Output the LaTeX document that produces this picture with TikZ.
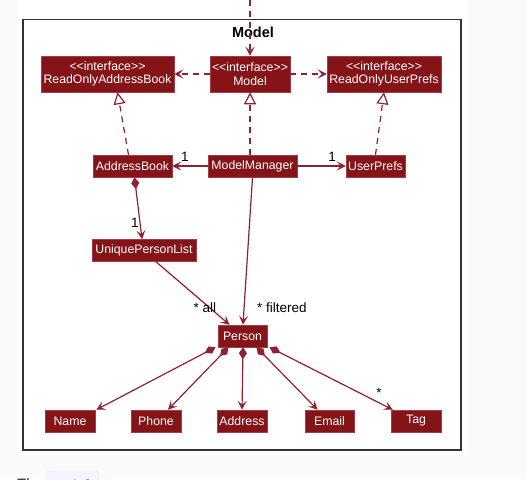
\documentclass[tikz,border=0pt]{standalone}
\usepackage{fontspec}
\setmainfont{Liberation Sans}
\newfontfamily\codefont{Liberation Mono}
\usetikzlibrary{arrows.meta,calc}
\definecolor{boxred}{HTML}{841418}
\definecolor{boxedge}{HTML}{A83A44}
\definecolor{linered}{HTML}{8E2231}
\definecolor{pagebg}{HTML}{FAFAFA}
\newcommand{\stereo}{{<}{<}interface{>}{>}}
\tikzset{
  cls/.style={rectangle, fill=boxred, draw=boxedge, line width=0.5pt, text=white,
    inner sep=0pt, minimum height=22pt, font=\fontsize{12.3}{13.5}\selectfont, align=center},
  iface/.style={cls, minimum height=36pt},
  link/.style={draw=linered, line width=1.2pt},
  opentip/.style={-{Stealth[length=9pt,width=9pt,inset=4pt]}},
  realize/.style={link, dash pattern=on 6pt off 5pt, -{Triangle[open,length=12pt,width=12pt,fill=white]}},
  depend/.style={link, dash pattern=on 6pt off 5pt, opentip},
  compose/.style={link, {Diamond[length=12pt,width=8pt]}-{Stealth[length=9pt,width=9pt,inset=4pt]}},
  mult/.style={font=\fontsize{13.5}{14}\selectfont, text=black, inner sep=0pt},
}
\begin{document}
\begin{tikzpicture}[x=1pt,y=-1pt]
\useasboundingbox (0,0) rectangle (527,479);
\clip (0,0) rectangle (527,479);
\fill[pagebg] (0,0) rectangle (527,479);
\fill[white] (17,0) rectangle (467,455);
% frame
\draw[black!80, line width=1.6pt] (23,19.5) rectangle (461,450);
\node[font=\bfseries\fontsize{14.5}{15}\selectfont, inner sep=0pt] (title) at (253,32) {Model};

% interfaces
\node[iface, minimum width=133pt] (ROAB) at (107.5,74) {\stereo\\ReadOnlyAddressBook};
\node[iface, minimum width=80pt] (MI) at (250,74) {\stereo\\Model};
\node[iface, minimum width=114pt] (ROUP) at (384,74) {\stereo\\ReadOnlyUserPrefs};

% classes
\node[cls, minimum width=79pt] (AB) at (132.5,166) {AddressBook};
\node[cls, minimum width=89pt] (MM) at (252.5,166) {ModelManager};
\node[cls, minimum width=59pt] (UP) at (375.5,166) {UserPrefs};
\node[cls, minimum width=104pt] (UPL) at (144,250.5) {UniquePersonList};
\node[cls, minimum width=49pt] (P) at (242.5,336) {Person};
\node[cls, minimum width=50pt] (Name) at (70,421) {Name};
\node[cls, minimum width=50pt] (Phone) at (156,421) {Phone};
\node[cls, minimum width=50pt] (Addr) at (242,421) {Address};
\node[cls, minimum width=49pt] (Email) at (329.5,421) {Email};
\node[cls, minimum width=50pt] (Tag) at (416,421) {Tag};

% incoming dependency from outside
\coordinate (ext) at (250,0);
\draw[depend] (ext) -- (MI.north);
\draw[depend] (MI.west) -- (ROAB.east);
\draw[depend] (MI.east) -- (ROUP.west);

% realizations
\draw[realize] ($(AB.north)+(-4,0)$) -- ($(ROAB.south)+(10,0)$);
\draw[realize] (MM.north -| MI.south) -- (MI.south);
\draw[realize] (UP.north) -- (ROUP.south);

% associations
\draw[link, opentip] (MM.west) -- (AB.east);
\node[mult] (m1) at (185,157) {1};
\draw[link, opentip] (MM.east) -- (UP.west);
\node[mult] (m2) at (332,157) {1};

\draw[compose] ($(AB.south)+(2,0)$) -- ($(UPL.north)+(-2,0)$);
\node[mult] (m3) at (135,223) {1};

\draw[link, opentip] ($(UPL.south)+(12,0)$) -- ($(P.north)+(-13,0)$);
\node[mult] (mall) at (205,308) {* all};
\draw[link, opentip] (MM.south) -- ($(P.north)+(0.5,0)$);
\node[mult] (mfil) at (282,308) {* filtered};

% person compositions
\draw[compose] ($(P.south)+(-27,0)$) -- ($(Name.north east)+(1,0)$);
\draw[compose] ($(P.south)+(-14,0)$) -- ($(Phone.north)+(12,0)$);
\draw[compose] ($(P.south)+(0.5,0)$) -- (Addr.north);
\draw[compose] ($(P.south)+(14,0)$) -- ($(Email.north)+(-12,0)$);
\draw[compose] ($(P.south)+(27,0)$) -- ($(Tag.north west)+(2,0)$);
\node[mult] (mtag) at (379,393) {*};

% clipped text below
\node[anchor=base west, inner sep=0pt, font=\fontsize{15}{16}\selectfont, text=black!85] (the) at (17,489) {The};
\draw[fill=blue!4, draw=blue!12, rounded corners=2pt] (47,471) rectangle (99,495);
\node[anchor=base, inner sep=0pt, font=\codefont\fontsize{13}{14}\selectfont, text=black!85] (code) at (73,489) {Model};
\node[anchor=base west, inner sep=0pt, font=\fontsize{15}{16}\selectfont, text=black!85] (comp) at (104,490) {component};
\end{tikzpicture}
\end{document}
